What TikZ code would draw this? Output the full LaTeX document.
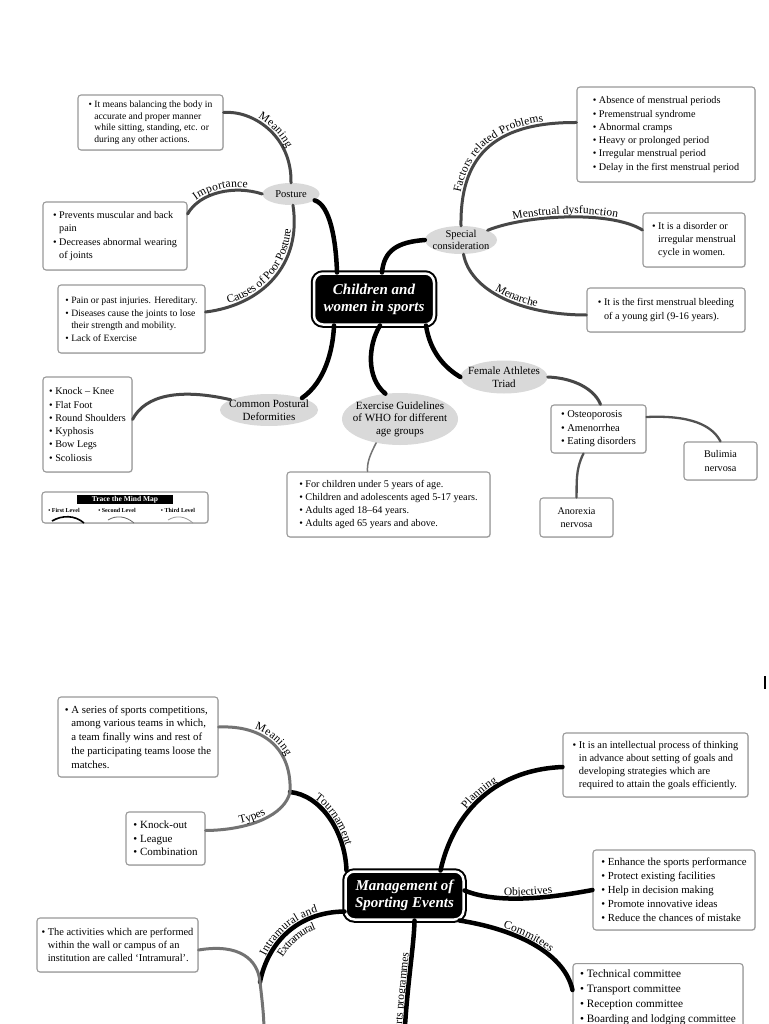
\documentclass[tikz,border=0pt]{standalone}
\usepackage{fontspec}
\setmainfont{Liberation Serif}
\usetikzlibrary{shapes.geometric,decorations.text,shadows}
\newcommand\labfont{\fontsize{11.5}{13}\selectfont}
\newcommand\bu{\textbullet\ }
\newcommand\ind{\hphantom{\textbullet\ }}
\begin{document}
\begin{tikzpicture}[x=1pt,y=-1pt,
  main/.style={draw=black,line width=4.5pt,line cap=round},
  sec/.style={draw=black!72,line width=3pt,line cap=round},
  sec2/.style={draw=black!55,line width=3pt,line cap=round},
  ter/.style={draw=black!68,line width=2.3pt,line cap=round},
  thin3/.style={draw=black!55,line width=1.5pt,line cap=round},
  lab/.style={postaction={decorate,decoration={text along path,text={|\labfont|#1},text align=center,text color=black,raise=3pt}}},
  labd/.style={postaction={decorate,decoration={text along path,text={|\labfont|#1},text align=center,text color=black,raise=-12.5pt}}},
  hub/.style={draw=black,fill=black,line width=2pt,double=white,double distance=2.5pt,rounded corners=9pt,text=white,font=\fontsize{15}{17}\selectfont\bfseries\itshape,align=center,inner sep=0pt},
  oval/.style={ellipse,fill=black!15,inner xsep=-8pt,inner ysep=-5pt,align=center,font=\fontsize{11}{12.5}\selectfont},
  box/.style={rectangle,draw=black!40,line width=1.1pt,rounded corners=3pt,fill=white,align=left,inner xsep=4.5pt,inner ysep=5pt,font=\fontsize{10.2}{13.3}\selectfont,drop shadow={shadow xshift=0.8pt,shadow yshift=-0.8pt,opacity=0.25}},
]
\useasboundingbox (0,0) rectangle (768,1024);
\clip (0,0) rectangle (768,1024);
\fill[white] (0,0) rectangle (768,1024);

% ---------------- TOP MAP ----------------
\node[hub,minimum width=120pt,minimum height=51pt] (ctr) at (374,299) {Children and\\women in sports};

\node[oval,minimum width=57pt,minimum height=22pt,font=\fontsize{10.5}{12}\selectfont] (post) at (291,194) {Posture};
\node[oval,minimum width=72pt,minimum height=28pt,font=\fontsize{10.5}{12}\selectfont] (spec) at (461,240) {Special\\consideration};
\node[oval,minimum width=87pt,minimum height=33pt] (fat) at (504,377) {Female Athletes\\Triad};
\node[oval,minimum width=116pt,minimum height=52pt] (ex) at (400,419) {Exercise Guidelines\\of WHO for different\\age groups};
\node[oval,minimum width=98pt,minimum height=32pt] (cpd) at (269,410) {Common Postural\\Deformities};

\node[box,minimum width=145pt,minimum height=55pt,font=\fontsize{9.6}{11.5}\selectfont] (mtop) at (150.5,122.5) {\bu It means balancing the body in\\\ind accurate and proper manner\\\ind while sitting, standing, etc. or\\\ind during any other actions.};
\node[box,minimum width=144pt,minimum height=68pt] (imp) at (115,236) {\bu Prevents muscular and back\\\ind pain\\\bu Decreases abnormal wearing\\\ind of joints};
\node[box,minimum width=147pt,minimum height=68pt,font=\fontsize{9.7}{12.5}\selectfont] (cause) at (131.5,319) {\bu Pain or past injuries. Hereditary.\\\bu Diseases cause the joints to lose\\\ind their strength and mobility.\\\bu Lack of Exercise};
\node[box,minimum width=89pt,minimum height=95pt] (cpdl) at (87.5,424.5) {\bu Knock – Knee\\\bu Flat Foot\\\bu Round Shoulders\\\bu Kyphosis\\\bu Bow Legs\\\bu Scoliosis};
\node[box,minimum width=178pt,minimum height=95pt] (fac) at (666,134.5) {\bu Absence of menstrual periods\\\bu Premenstrual syndrome\\\bu Abnormal cramps\\\bu Heavy or prolonged period\\\bu Irregular menstrual period\\\bu Delay in the first menstrual period};
\node[box,minimum width=102pt,minimum height=54pt] (mdy) at (694,240) {\bu It is a disorder or\\\ind irregular menstrual\\\ind cycle in women.};
\node[box,minimum width=158pt,minimum height=44pt] (men) at (666,310) {\bu It is the first menstrual bleeding\\\ind of a young girl (9-16 years).};
\node[box,minimum width=95pt,minimum height=48pt,font=\fontsize{10.5}{13.5}\selectfont] (ost) at (598.5,429) {\bu Osteoporosis\\\bu Amenorrhea\\\bu Eating disorders};
\node[box,minimum width=73pt,minimum height=38pt,align=center] (bul) at (720.5,461) {Bulimia\\nervosa};
\node[box,minimum width=73pt,minimum height=39pt,align=center] (ano) at (576.5,517.5) {Anorexia\\nervosa};
\node[box,minimum width=203pt,minimum height=65pt] (exb) at (388.5,504.5) {\bu For children under 5 years of age.\\\bu Children and adolescents aged 5-17 years.\\\bu Adults aged 18–64 years.\\\bu Adults aged 65 years and above.};

% trace the mind map
\node[box,minimum width=166pt,minimum height=31pt] (trace) at (125,507.5) {};
\node[fill=black,text=white,font=\fontsize{7.5}{8}\selectfont\bfseries,inner sep=1.5pt,minimum width=96pt] (tracet) at (125,499.5) {Trace the Mind Map};
\node[font=\fontsize{6}{6.5}\selectfont\bfseries,inner sep=0pt] (lv1) at (64,510) {\bu First Level};
\node[font=\fontsize{6}{6.5}\selectfont\bfseries,inner sep=0pt] (lv2) at (117,510) {\bu Second Level};
\node[font=\fontsize{6}{6.5}\selectfont\bfseries,inner sep=0pt] (lv3) at (178,510) {\bu Third Level};
\draw[line width=1.6pt] (52,521) .. controls (62,515) and (75,515) .. (84,523);
\draw[black!60,line width=0.8pt] (108,520) .. controls (116,515) and (126,516) .. (134,523);
\draw[black!40,line width=0.8pt] (168,520) .. controls (176,515) and (185,516) .. (193,523);

% main branches
\draw[main] ([xshift=-37pt]ctr.north) .. controls (336,240) and (330,205) .. (post.-15);
\draw[main] ([xshift=8pt]ctr.north) .. controls (384,250) and (398,242) .. (spec.west);
\draw[main] ([xshift=52pt]ctr.south) .. controls (430,352) and (445,368) .. (fat.west);
\draw[main] ([xshift=6pt]ctr.south) .. controls (368,345) and (366,378) .. (ex.120);
\draw[main] ([xshift=-40pt]ctr.south) .. controls (333,350) and (325,382) .. (cpd.20);

% second level
\draw[sec,lab=Meaning] ([yshift=10pt]mtop.east) .. controls (252,110) and (292,135) .. (post.north);
\draw[sec,lab=Importance] ([yshift=22pt]imp.east) .. controls (200,192) and (235,185) .. (post.west);
\draw[sec,lab={Causes of Poor Posture}] ([yshift=7pt]cause.east) .. controls (262,305) and (302,265) .. (post.-80);
\draw[sec,lab={Factors related Problems}] (spec.north) .. controls (460,160) and (490,122) .. ([yshift=12pt]fac.west);
\draw[sec,lab={Menstrual dysfunction}] (spec.20) .. controls (525,215) and (610,210) .. ([yshift=10pt]mdy.west);
\draw[sec,lab=Menarche] (spec.-80) .. controls (470,290) and (520,315) .. ([yshift=-5pt]men.west);
\draw[sec] (fat.east) .. controls (575,378) and (595,390) .. ([xshift=2pt]ost.north);
\draw[sec] (cpd.165) .. controls (180,388) and (145,395) .. ([yshift=5pt]cpdl.east);
\draw[ter] ([yshift=12pt]ost.east) .. controls (690,415) and (712,425) .. (bul.north);
\draw[ter] ([xshift=-15pt]ost.south) .. controls (575,470) and (577,485) .. (ano.north);
\draw[thin3] (ex.225) .. controls (370,455) and (367,462) .. ([xshift=-21pt]exb.north);

% ---------------- BOTTOM MAP ----------------
\node[hub,minimum width=118pt,minimum height=48pt] (mgmt) at (404.5,895.5) {Management of\\Sporting Events};

\node[box,minimum width=160pt,minimum height=80pt,font=\fontsize{10.8}{13.8}\selectfont] (mbo) at (138,737) {\bu A series of sports competitions,\\\ind among various teams in which,\\\ind a team finally wins and rest of\\\ind the participating teams loose the\\\ind matches.};
\node[box,minimum width=79pt,minimum height=53pt,font=\fontsize{11}{13.5}\selectfont] (typ) at (165.5,838.5) {\bu Knock-out\\\bu League\\\bu Combination};
\node[box,minimum width=185pt,minimum height=64pt,font=\fontsize{10.4}{13}\selectfont] (pla) at (655.5,765) {\bu It is an intellectual process of thinking\\\ind in advance about setting of goals and\\\ind developing strategies which are\\\ind required to attain the goals efficiently.};
\node[box,minimum width=162pt,minimum height=80pt,font=\fontsize{10.8}{14}\selectfont] (obj) at (674,890) {\bu Enhance the sports performance\\\bu Protect existing facilities\\\bu Help in decision making\\\bu Promote innovative ideas\\\bu Reduce the chances of mistake};
\node[box,anchor=north,minimum width=170pt,font=\fontsize{11.3}{15}\selectfont,inner ysep=6pt] (com) at (658,963) {\bu Technical committee\\\bu Transport committee\\\bu Reception committee\\\bu Boarding and lodging committee};
\node[box,minimum width=161pt,minimum height=54pt,font=\fontsize{10.4}{13}\selectfont] (intra) at (117.5,945) {\bu The activities which are performed\\\ind within the wall or campus of an\\\ind institution are called ‘Intramural’.};

\coordinate (tj) at (290,792);
\coordinate (ij) at (260,982);
\coordinate (sp) at (403,1075);
\coordinate (ib) at (264,1032);

\draw[main,lab=Tournament] (tj) .. controls (320,795) and (345,830) .. ([xshift=-58pt]mgmt.north);
\draw[main,lab=Planning] ([xshift=36pt]mgmt.north) .. controls (452,818) and (490,770) .. ([yshift=-2pt]pla.west);
\draw[main,lab=Objectives] ([yshift=5pt]mgmt.east) .. controls (500,905) and (555,897) .. (obj.west);
\draw[main,lab=Commitees] ([xshift=-5pt]mgmt.south east) .. controls (520,930) and (565,955) .. ([yshift=-27pt]com.north west);
\draw[main,lab={Sports programmes}] (sp) .. controls (404,1000) and (414,950) .. ([xshift=10pt]mgmt.south);
\draw[main,lab={Intramural and},labd=Extramural] (ij) .. controls (268,942) and (298,912) .. ([yshift=-16pt]mgmt.west);

\draw[sec2,lab=Meaning] ([yshift=10pt]mbo.east) .. controls (265,725) and (292,750) .. (tj);
\draw[sec2,lab=Types] ([yshift=8pt]typ.east) .. controls (250,830) and (285,815) .. (tj);
\draw[sec2] ([yshift=-5pt]intra.east) .. controls (240,943) and (258,960) .. (ij);
\draw[sec2] (ij) .. controls (262,1000) and (264,1015) .. (ib);

% scan mark
\draw[line width=1.2pt] (765,676) -- (765,689);
\end{tikzpicture}
\end{document}
